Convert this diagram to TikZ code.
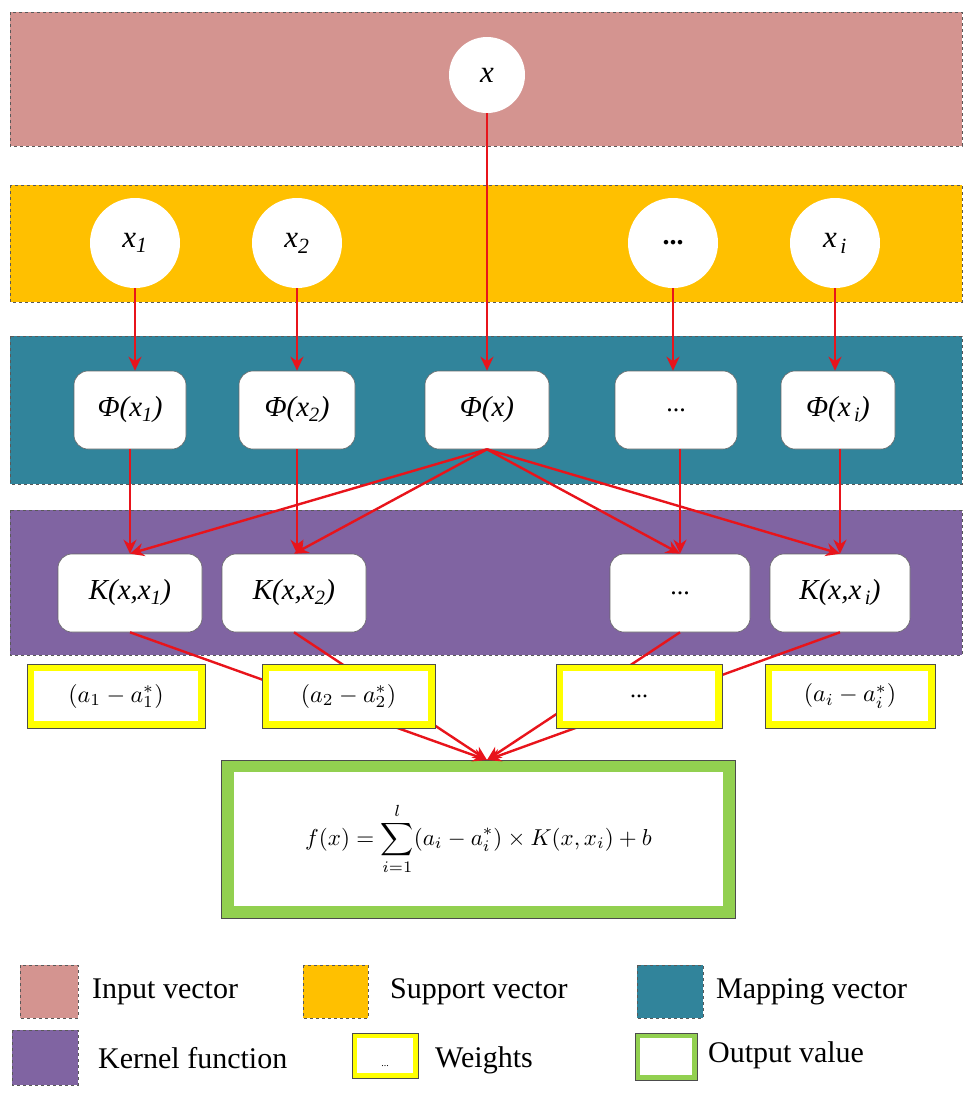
\documentclass[tikz,border=0pt]{standalone}
\usepackage{fontspec}
\setmainfont{Liberation Serif}
\usetikzlibrary{arrows.meta}
\definecolor{cin}{HTML}{D49490}
\definecolor{csup}{HTML}{FFC000}
\definecolor{cmap}{HTML}{31849B}
\definecolor{cker}{HTML}{8064A2}
\definecolor{cyel}{HTML}{FFFF00}
\definecolor{cgrn}{HTML}{92D050}
\definecolor{cred}{HTML}{E8141B}
\begin{document}
\begin{tikzpicture}[x=1pt,y=-1pt,
  band/.style={draw=black!65,dashed,line width=1pt},
  circ/.style={circle,fill=white,minimum size=#1,inner sep=0pt,font=\fontsize{31}{33}\selectfont\itshape},
  rbox/.style={rounded corners=14pt,fill=white,draw=black!60,line width=0.6pt,minimum width=#1,minimum height=78pt,font=\fontsize{29}{31}\selectfont\itshape},
  arr/.style={cred,line width=2.4pt,-{Stealth[length=14pt,width=13pt]}},
  lab/.style={font=\fontsize{30}{32}\selectfont,anchor=west,inner sep=0pt}]
\useasboundingbox (0,0) rectangle (973,1104);
% bands
\fill[cin] (10,12) rectangle (962,146); \draw[band] (10,12) rectangle (962,146);
\fill[csup] (10,185) rectangle (962,302); \draw[band] (10,185) rectangle (962,302);
\fill[cmap] (10,336) rectangle (962,484); \draw[band] (10,336) rectangle (962,484);
\fill[cker] (10,510) rectangle (962,655); \draw[band] (10,510) rectangle (962,655);
% input
\node[circ=76pt] (x) at (487,75) {x};
% support
\node[circ=90pt] (s1) at (135,243) {x\textsubscript{1}};
\node[circ=90pt] (s2) at (297,243) {x\textsubscript{2}};
\node[circ=90pt,font=\fontsize{28}{30}\selectfont\bfseries] (s3) at (673,243) {...};
\node[circ=90pt] (s4) at (835,243) {x\textsubscript{\,i}};
% mapping
\node[rbox=112pt] (m1) at (130,410) {Φ(x\textsubscript{1})};
\node[rbox=116pt] (m2) at (297,410) {Φ(x\textsubscript{2})};
\node[rbox=124pt] (m0) at (487,410) {Φ(x)};
\node[rbox=122pt,font=\fontsize{26}{28}\selectfont] (m3) at (676,410) {...};
\node[rbox=114pt] (m4) at (838,410) {Φ(x\textsubscript{\,i})};
% kernel
\node[rbox=144pt] (k1) at (130,593) {K(x,x\textsubscript{1})};
\node[rbox=144pt] (k2) at (294,593) {K(x,x\textsubscript{2})};
\node[rbox=140pt,font=\fontsize{26}{28}\selectfont] (k3) at (680,593) {...};
\node[rbox=140pt] (k4) at (840,593) {K(x,x\textsubscript{\,i})};
% output box
\node[draw=black!70,line width=0.6pt,fill=cgrn,minimum width=514pt,minimum height=158pt,inner sep=0pt] (out) at (478.5,839) {};
\fill[white] (234,772) rectangle (723,906);
\node (fx) at (478.5,839) {\scalebox{2.3}{$\displaystyle f(x)=\sum_{i=1}^{l}(a_i-a_i^{*})\times K(x,x_i)+b$}};
\coordinate (ot) at (487,760);
% arrows
\draw[arr] (x) -- (m0);
\draw[arr] (s1) -- (m1.north -| s1);
\draw[arr] (s2) -- (m2);
\draw[arr] (s3) -- (m3.north -| s3);
\draw[arr] (s4) -- (m4.north -| s4);
\draw[arr] (m1) -- (k1);
\draw[arr] (m2) -- (k2.north -| m2);
\draw[arr] (m3.south -| k3) -- (k3);
\draw[arr] (m4.south -| k4) -- (k4);
\foreach \k in {k1,k2,k3,k4} \draw[arr] (m0.south) -- (\k.north);
\foreach \k in {k1,k2,k3,k4} \draw[arr] (\k.south) -- (ot);
% weights
\foreach \a/\b/\n/\t in {27/205/w1/{$(a_1-a_1^{*})$},262/435/w2/{$(a_2-a_2^{*})$},556/722/w3/{...},765/935/w4/{$(a_i-a_i^{*})$}}{
  \fill[cyel] (\a,664) rectangle (\b,728);
  \draw[black!70,line width=0.6pt] (\a,664) rectangle (\b,728);
  \fill[white] (\a+7,671) rectangle (\b-7,721);
  \node (\n) at ({(\a+\b)/2},696) {\scalebox{2.4}{\t}};
}
% legend
\fill[cin] (20,965) rectangle (78,1018); \draw[band] (20,965) rectangle (78,1018);
\node[lab] (l1) at (92,992) {Input vector};
\fill[csup] (303,965) rectangle (368,1018); \draw[band] (303,965) rectangle (368,1018);
\node[lab] (l2) at (390,992) {Support vector};
\fill[cmap] (637,965) rectangle (703,1018); \draw[band] (637,965) rectangle (703,1018);
\node[lab] (l3) at (716,992) {Mapping vector};
\fill[cker] (12,1030) rectangle (78,1085); \draw[band] (12,1030) rectangle (78,1085);
\node[lab] (l4) at (98,1058) {Kernel function};
\fill[cyel] (352,1033) rectangle (418,1078); \draw[black!70,line width=0.6pt] (352,1033) rectangle (418,1078);
\fill[white] (357,1038) rectangle (413,1073);
\node[font=\fontsize{10}{10}\selectfont] at (385,1066) {...};
\node[lab] (l5) at (435,1060) {Weights};
\fill[cgrn] (635,1033) rectangle (697,1080); \draw[black!70,line width=0.6pt] (635,1033) rectangle (697,1080);
\fill[white] (640,1038) rectangle (692,1075);
\node[lab] (l6) at (708,1055) {Output value};
\end{tikzpicture}
\end{document}
